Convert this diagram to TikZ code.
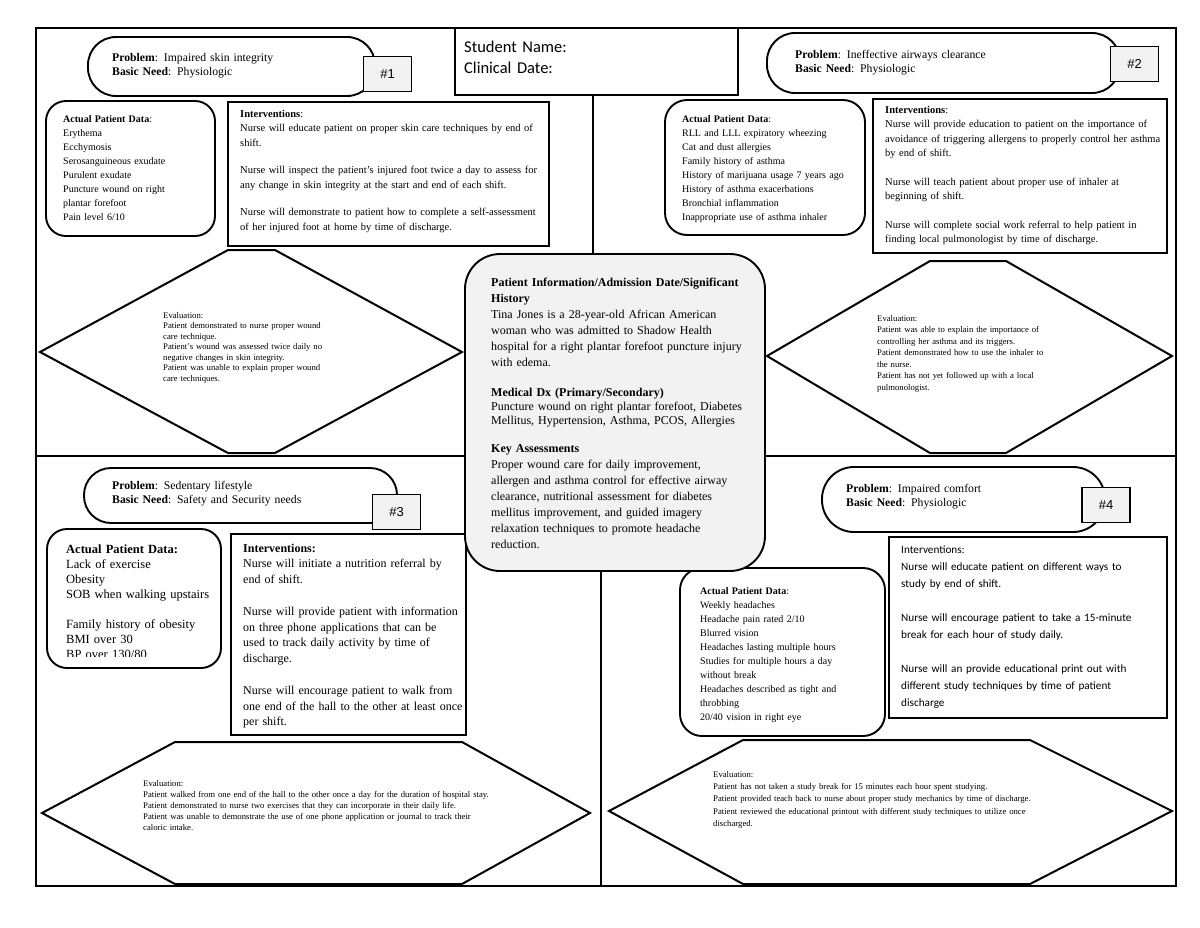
\documentclass[tikz,border=0pt]{standalone}
\usepackage{fontspec}
\setmainfont{Liberation Serif}
\newfontfamily\calibrifont{Carlito}
\newfontfamily\arialfont{Liberation Sans}
\usetikzlibrary{positioning}
\definecolor{boxgray}{HTML}{F2F2F2}

\begin{document}
\begin{tikzpicture}[x=1pt, y=-1pt,
  divider/.style={line width=1.3pt},
  probshape/.style={draw, line width=1.9pt, rounded corners=28pt},
  databox/.style={draw, line width=1.9pt, rounded corners=20pt},
  intbox/.style={draw, line width=1.7pt},
  evalshape/.style={draw, line width=2pt, line join=miter},
  numbox/.style={draw, line width=1.4pt, fill=boxgray, minimum width=48pt, minimum height=35pt,
    font=\arialfont\fontsize{13}{15}\selectfont},
  txt/.style={anchor=base west, inner sep=0pt, align=left, text width=360pt},
  probtxt/.style={txt, font=\fontsize{11.7}{14.5}\selectfont},
  datatxt/.style={txt, font=\fontsize{10}{14}\selectfont},
  inttxt/.style={txt, font=\fontsize{10.5}{14.5}\selectfont},
  bigtxt/.style={txt, font=\fontsize{12.5}{15}\selectfont},
  biginttxt/.style={txt, font=\fontsize{12}{15.5}\selectfont},
  evaltxt/.style={txt, font=\fontsize{8.7}{#1}\selectfont},
  infotxt/.style={txt, font=\fontsize{12}{#1}\selectfont}]
  \useasboundingbox (0,0) rectangle (1200,927);

  % frame and dividers
  \draw[line width=1.6pt] (36,28) rectangle (1176,886);
  \draw[divider] (593,95) -- (593,254);
  \draw[divider] (601,571) -- (601,886);
  \draw[divider] (36,456) -- (465,456);
  \draw[divider] (765,456) -- (1176,456);

  % student box
  \draw[intbox] (455,28) rectangle (738,95);
  \node[txt, font=\calibrifont\fontsize{16.5}{21}\selectfont] (student) at (464,52) {Student Name:\\Clinical Date:};

  % evaluation hexagons
  \draw[evalshape] (40,352) -- (228,250) -- (275,250) -- (462,352) -- (275,453) -- (228,453) -- cycle;
  \draw[evalshape] (767,356) -- (930,261) -- (1006,261) -- (1172,356) -- (1006,453) -- (930,453) -- cycle;
  \draw[evalshape] (42,813) -- (175,742) -- (462,742) -- (590,813) -- (462,884) -- (175,884) -- cycle;
  \draw[evalshape] (609,811) -- (743,740) -- (1030,740) -- (1172,811) -- (1030,884) -- (743,884) -- cycle;

  % problem shapes
  \draw[probshape] (88,37) rectangle (375,96);
  \draw[probshape] (767,33) rectangle (1120,93);
  \draw[probshape, rounded corners=27pt] (84,468) rectangle (397,523);
  \draw[probshape, rounded corners=32pt] (822,467) rectangle (1105,532);
  \foreach \n/\cx/\cy in {1/387.5/74, 2/1134.5/64, 3/396.5/512, 4/1106/505}
    \node[numbox] (num\n) at (\cx,\cy) {\#\n};

  % data and intervention boxes
  \draw[databox] (46,101) rectangle (215,236);
  \draw[intbox] (228,102) rectangle (549,246);
  \draw[databox, rounded corners=22pt] (665,100) rectangle (865,235);
  \draw[intbox] (873,99) rectangle (1167,253);
  \draw[databox] (47,529) rectangle (221,668);
  \draw[intbox] (231,534) rectangle (466,735);
  \draw[databox, rounded corners=22pt] (680,568) rectangle (885,736);
  \draw[intbox] (889,537) rectangle (1167,718);

  % center box
  \draw[line width=1.9pt, fill=boxgray, rounded corners=35pt] (465,254) rectangle (765,571);
  \node[infotxt=16] (info) at (491,286) {\textbf{Patient Information/Admission Date/Significant}\\\textbf{History}\\
    Tina Jones is a 28-year-old African American\\woman who was admitted to Shadow Health\\
    hospital for a right plantar forefoot puncture injury\\with edema.};
  \node[infotxt=14] (dx) at (491,396) {\textbf{Medical Dx (Primary/Secondary)}\\
    Puncture wound on right plantar forefoot, Diabetes\\Mellitus, Hypertension, Asthma, PCOS, Allergies};
  \node[infotxt=16] (assess) at (491,452) {\textbf{Key Assessments}\\
    Proper wound care for daily improvement,\\allergen and asthma control for effective airway\\
    clearance, nutritional assessment for diabetes\\mellitus improvement, and guided imagery\\
    relaxation techniques to promote headache\\reduction.};

  % problem 1
  \node[probtxt] (probone) at (112,61) {\textbf{Problem}: Impaired skin integrity\\\textbf{Basic Need}: Physiologic};
  \node[datatxt] (dataone) at (63,122) {\textbf{Actual Patient Data}:\\Erythema\\Ecchymosis\\Serosanguineous exudate\\
    Purulent exudate\\Puncture wound on right\\plantar forefoot\\Pain level 6/10};
  \node[inttxt] (intone) at (240,117) {\textbf{Interventions}:\\
    Nurse will educate patient on proper skin care techniques by end of\\shift.\\[13pt]
    Nurse will inspect the patient’s injured foot twice a day to assess for\\
    any change in skin integrity at the start and end of each shift.\\[13pt]
    Nurse will demonstrate to patient how to complete a self-assessment\\
    of her injured foot at home by time of discharge.};
  \node[evaltxt=10.5] (evalone) at (163,318) {Evaluation:\\Patient demonstrated to nurse proper wound\\
    care technique.\\Patient’s wound was assessed twice daily no\\negative changes in skin integrity.\\
    Patient was unable to explain proper wound\\care techniques.};

  % problem 2
  \node[probtxt] (probtwo) at (795,58) {\textbf{Problem}: Ineffective airways clearance\\\textbf{Basic Need}: Physiologic};
  \node[datatxt] (datatwo) at (682,122) {\textbf{Actual Patient Data}:\\RLL and LLL expiratory wheezing\\
    Cat and dust allergies\\Family history of asthma\\History of marijuana usage 7 years ago\\
    History of asthma exacerbations\\Bronchial inflammation\\Inappropriate use of asthma inhaler};
  \node[inttxt] (inttwo) at (885,113) {\textbf{Interventions}:\\
    Nurse will provide education to patient on the importance of\\
    avoidance of triggering allergens to properly control her asthma\\by end of shift.\\[14pt]
    Nurse will teach patient about proper use of inhaler at\\beginning of shift.\\[14pt]
    Nurse will complete social work referral to help patient in\\
    finding local pulmonologist by time of discharge.};
  \node[evaltxt=11.5] (evaltwo) at (877,321) {Evaluation:\\Patient was able to explain the importance of\\
    controlling her asthma and its triggers.\\Patient demonstrated how to use the inhaler to\\the nurse.\\
    Patient has not yet followed up with a local\\pulmonologist.};

  % problem 3
  \node[probtxt] (probthree) at (112,489) {\textbf{Problem}: Sedentary lifestyle\\\textbf{Basic Need}: Safety and Security needs};
  \begin{scope}
    \clip (47,529) rectangle (221,656);
    \node[bigtxt] (datathree) at (66,553) {\textbf{Actual Patient Data:}\\Lack of exercise\\Obesity\\
      SOB when walking upstairs\\[15pt]Family history of obesity\\BMI over 30\\BP over 130/80};
  \end{scope}
  \node[biginttxt] (intthree) at (243,552) {\textbf{Interventions:}\\
    Nurse will initiate a nutrition referral by\\end of shift.\\[17pt]
    Nurse will provide patient with information\\on three phone applications that can be\\
    used to track daily activity by time of\\discharge.\\[17pt]
    Nurse will encourage patient to walk from\\one end of the hall to the other at least once\\per shift.};
  \node[evaltxt=11] (evalthree) at (143,786) {Evaluation:\\
    Patient walked from one end of the hall to the other once a day for the duration of hospital stay.\\
    Patient demonstrated to nurse two exercises that they can incorporate in their daily life.\\
    Patient was unable to demonstrate the use of one phone application or journal to track their\\
    caloric intake.};

  % problem 4
  \node[probtxt] (probfour) at (846,492) {\textbf{Problem}: Impaired comfort\\\textbf{Basic Need}: Physiologic};
  \node[datatxt] (datafour) at (700,594) {\textbf{Actual Patient Data}:\\Weekly headaches\\
    Headache pain rated 2/10\\Blurred vision\\Headaches lasting multiple hours\\
    Studies for multiple hours a day\\without break\\Headaches described as tight and\\throbbing\\
    20/40 vision in right eye};
  \node[txt, font=\calibrifont\fontsize{11.2}{17}\selectfont] (intfour) at (901,553) {Interventions:\\
    Nurse will educate patient on different ways to\\study by end of shift.\\[17pt]
    Nurse will encourage patient to take a 15-minute\\break for each hour of study daily.\\[17pt]
    Nurse will an provide educational print out with\\different study techniques by time of patient\\
    discharge};
  \node[evaltxt=12.4] (evalfour) at (713,777) {Evaluation:\\
    Patient has not taken a study break for 15 minutes each hour spent studying.\\
    Patient provided teach back to nurse about proper study mechanics by time of discharge.\\
    Patient reviewed the educational printout with different study techniques to utilize once\\
    discharged.};
\end{tikzpicture}
\end{document}
